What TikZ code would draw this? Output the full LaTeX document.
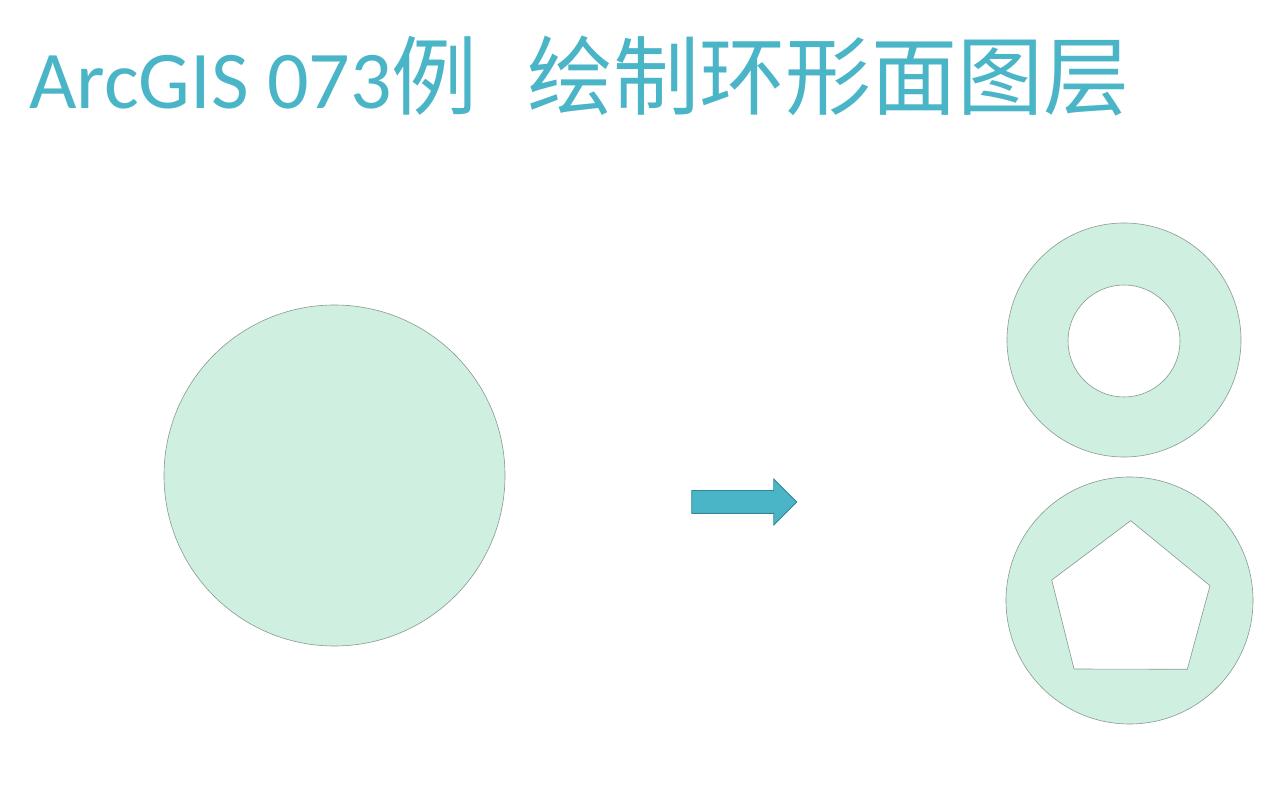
\documentclass[tikz,border=0pt]{standalone}
\usepackage{fontspec}
\setmainfont{Carlito}
\newfontfamily\cjk{Noto Sans CJK SC}
\usetikzlibrary{shapes.arrows}
\definecolor{titleblue}{HTML}{4BB5C8}
\definecolor{ringfill}{HTML}{CFF0E0}
\definecolor{ringline}{HTML}{8A9A90}
\definecolor{arrowline}{HTML}{2F8797}
\newcommand{\titletext}{ArcGIS 073{\cjk\fontsize{86}{90}\selectfont 例\hspace{50pt}绘制环形面图层}}

\begin{document}
\begin{tikzpicture}[x=1pt,y=-1pt]

\tikzstyle{polygonfill}=[fill=ringfill,draw=ringline,line width=0.6pt,even odd rule]

\useasboundingbox[fill=white] (0,0) rectangle (1278,799);

\node[anchor=base west,inner sep=0pt,text=titleblue,font=\fontsize{82}{90}\selectfont](title) at (29,109){\titletext};

% source polygon
\path[polygonfill] (334.5,475.5) circle[radius=170.5];

\node[single arrow,draw=arrowline,fill=titleblue,line width=0.8pt,
  minimum height=105pt,minimum width=45pt,inner sep=11pt,
  single arrow head extend=11.5pt](arrow) at (738.5,502){};

% ring with round hole
\path[polygonfill] (1124,340) circle[radius=117] (1124,341) circle[radius=56];

% ring with pentagon hole
\path[polygonfill] (1129.5,600.5) circle[radius=123.5]
  (1130.7,520.7) -- (1210,585.7) -- (1187.3,669.3) -- (1074,669) -- (1051.7,580) -- cycle;

\end{tikzpicture}
\end{document}
